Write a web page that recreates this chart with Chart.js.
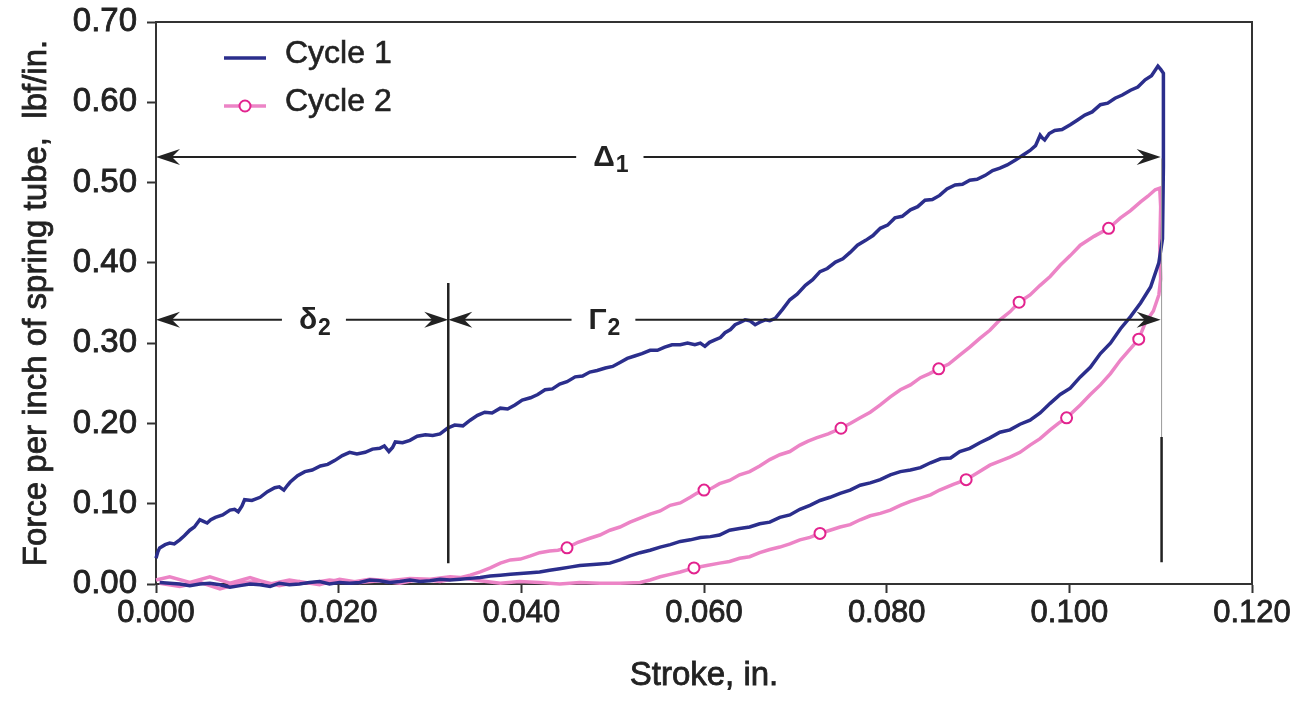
<!DOCTYPE html>
<html>
<head>
<meta charset="utf-8">
<title>Force per inch of spring tube vs stroke</title>
<script src="https://cdn.jsdelivr.net/npm/chart.js@4.4.1/dist/chart.umd.min.js"></script>
<style>
  html, body { margin: 0; padding: 0; background: #fff; }
  #wrap { width: 1296px; height: 702px; position: relative; }
</style>
</head>
<body>
<div id="wrap"><canvas id="chart"></canvas></div>
<script>
// Cycle 1 - loading, drop at end of stroke, unloading (stroke in., force lbf/in.)
const c1x = [0.0000, 0.0002, 0.0004, 0.0010, 0.0015, 0.0020, 0.0026, 0.0031, 0.0037, 0.0042,
  0.0048, 0.0052, 0.0056, 0.0060, 0.0065, 0.0073, 0.0081, 0.0086, 0.0090, 0.0094,
  0.0097, 0.0105, 0.0114, 0.0122, 0.0130, 0.0135, 0.0140, 0.0144, 0.0147, 0.0155,
  0.0163, 0.0171, 0.0180, 0.0188, 0.0196, 0.0204, 0.0212, 0.0220, 0.0229, 0.0237,
  0.0245, 0.0250, 0.0255, 0.0259, 0.0262, 0.0270, 0.0278, 0.0286, 0.0295, 0.0303,
  0.0311, 0.0319, 0.0327, 0.0336, 0.0344, 0.0352, 0.0360, 0.0368, 0.0377, 0.0385,
  0.0393, 0.0401, 0.0410, 0.0418, 0.0426, 0.0434, 0.0442, 0.0450, 0.0459, 0.0467,
  0.0475, 0.0483, 0.0492, 0.0500, 0.0508, 0.0516, 0.0524, 0.0532, 0.0541, 0.0549,
  0.0557, 0.0565, 0.0574, 0.0582, 0.0590, 0.0596, 0.0601, 0.0606, 0.0612, 0.0618,
  0.0623, 0.0629, 0.0634, 0.0640, 0.0645, 0.0650, 0.0656, 0.0661, 0.0667, 0.0672,
  0.0678, 0.0686, 0.0694, 0.0702, 0.0711, 0.0719, 0.0727, 0.0735, 0.0744, 0.0752,
  0.0760, 0.0768, 0.0777, 0.0785, 0.0793, 0.0801, 0.0809, 0.0817, 0.0826, 0.0834,
  0.0842, 0.0850, 0.0858, 0.0866, 0.0875, 0.0883, 0.0891, 0.0899, 0.0908, 0.0916,
  0.0924, 0.0932, 0.0941, 0.0949, 0.0957, 0.0963, 0.0968, 0.0970, 0.0973, 0.0978,
  0.0984, 0.0992, 0.1001, 0.1009, 0.1017, 0.1025, 0.1034, 0.1042, 0.1050, 0.1058,
  0.1067, 0.1075, 0.1083, 0.1090, 0.1097, 0.1100, 0.1103,
  0.1103, 0.1102, 0.1098, 0.1089,
  0.1078, 0.1067, 0.1056, 0.1045, 0.1034, 0.1023, 0.1012, 0.1001, 0.0990, 0.0979,
  0.0968, 0.0957, 0.0946, 0.0935, 0.0924, 0.0913, 0.0902, 0.0891, 0.0880, 0.0870,
  0.0859, 0.0848, 0.0837, 0.0826, 0.0815, 0.0804, 0.0793, 0.0782, 0.0771, 0.0760,
  0.0749, 0.0738, 0.0727, 0.0716, 0.0705, 0.0694, 0.0683, 0.0672, 0.0661, 0.0650,
  0.0639, 0.0628, 0.0617, 0.0607, 0.0596, 0.0585, 0.0574, 0.0563, 0.0552, 0.0541,
  0.0530, 0.0519, 0.0508, 0.0497, 0.0486, 0.0475, 0.0464, 0.0453, 0.0442, 0.0431,
  0.0420, 0.0410, 0.0399, 0.0388, 0.0377, 0.0366, 0.0355, 0.0344, 0.0333, 0.0322,
  0.0311, 0.0300, 0.0289, 0.0278, 0.0267, 0.0256, 0.0245, 0.0234, 0.0223, 0.0212,
  0.0201, 0.0190, 0.0179, 0.0168, 0.0157, 0.0146, 0.0135, 0.0125, 0.0114, 0.0103,
  0.0092, 0.0081, 0.0070, 0.0059, 0.0048, 0.0037, 0.0026, 0.0015, 0.0004];
const c1y = [0.032, 0.040, 0.045, 0.049, 0.051, 0.050, 0.055, 0.060, 0.067, 0.071,
  0.080, 0.078, 0.076, 0.080, 0.083, 0.086, 0.092, 0.093, 0.090, 0.097,
  0.105, 0.104, 0.108, 0.115, 0.120, 0.121, 0.117, 0.123, 0.127, 0.135,
  0.140, 0.142, 0.147, 0.149, 0.154, 0.160, 0.164, 0.162, 0.164, 0.168,
  0.169, 0.172, 0.165, 0.170, 0.177, 0.176, 0.179, 0.184, 0.186, 0.185,
  0.187, 0.194, 0.198, 0.197, 0.204, 0.210, 0.214, 0.213, 0.219, 0.218,
  0.223, 0.229, 0.232, 0.236, 0.242, 0.243, 0.249, 0.252, 0.258, 0.259,
  0.264, 0.266, 0.269, 0.271, 0.276, 0.281, 0.284, 0.287, 0.291, 0.291,
  0.295, 0.298, 0.298, 0.300, 0.298, 0.300, 0.296, 0.301, 0.304, 0.307,
  0.313, 0.317, 0.323, 0.326, 0.329, 0.328, 0.323, 0.326, 0.329, 0.328,
  0.331, 0.342, 0.354, 0.361, 0.372, 0.379, 0.389, 0.393, 0.401, 0.405,
  0.413, 0.422, 0.428, 0.434, 0.443, 0.447, 0.456, 0.458, 0.466, 0.470,
  0.478, 0.479, 0.484, 0.492, 0.497, 0.498, 0.503, 0.504, 0.509, 0.515,
  0.518, 0.522, 0.528, 0.534, 0.540, 0.546, 0.559, 0.556, 0.553, 0.561,
  0.565, 0.566, 0.572, 0.578, 0.584, 0.588, 0.597, 0.599, 0.605, 0.609,
  0.615, 0.619, 0.628, 0.633, 0.645, 0.641, 0.636,
  0.520, 0.430, 0.400, 0.370,
  0.350, 0.333, 0.318, 0.300, 0.287, 0.270, 0.258, 0.244, 0.236, 0.225,
  0.213, 0.204, 0.199, 0.192, 0.189, 0.182, 0.176, 0.169, 0.165, 0.157,
  0.156, 0.151, 0.145, 0.142, 0.140, 0.136, 0.130, 0.126, 0.123, 0.117,
  0.113, 0.108, 0.104, 0.098, 0.093, 0.086, 0.083, 0.077, 0.075, 0.071,
  0.069, 0.067, 0.061, 0.059, 0.058, 0.055, 0.053, 0.049, 0.046, 0.042,
  0.039, 0.035, 0.030, 0.026, 0.025, 0.024, 0.023, 0.021, 0.019, 0.017,
  0.015, 0.014, 0.013, 0.012, 0.011, 0.010, 0.008, 0.007, 0.006, 0.005,
  0.006, 0.004, 0.003, 0.005, 0.003, 0.002, 0.004, 0.005, 0.002, 0.001,
  0.002, 0.000, 0.003, 0.002, 0.000, -0.001, 0.001, -0.003, -0.001, 0.000,
  -0.002, -0.004, -0.001, 0.001, 0.000, -0.002, 0.000, 0.001, 0.002];

// Cycle 2
const c2x = [0.0000, 0.0015, 0.0037, 0.0059, 0.0081, 0.0103, 0.0125, 0.0146, 0.0168, 0.0190,
  0.0212, 0.0234, 0.0256, 0.0278, 0.0300, 0.0322, 0.0333, 0.0344, 0.0355, 0.0366,
  0.0377, 0.0388, 0.0399, 0.0410, 0.0420, 0.0431, 0.0440, 0.0450, 0.0462, 0.0475,
  0.0486, 0.0497, 0.0508, 0.0519, 0.0530, 0.0541, 0.0552, 0.0563, 0.0574, 0.0585,
  0.0592, 0.0600, 0.0608, 0.0617, 0.0628, 0.0639, 0.0650, 0.0661, 0.0672, 0.0683,
  0.0694, 0.0705, 0.0714, 0.0723, 0.0736, 0.0750, 0.0760, 0.0771, 0.0782, 0.0793,
  0.0804, 0.0815, 0.0826, 0.0837, 0.0847, 0.0857, 0.0868, 0.0880, 0.0891, 0.0902,
  0.0913, 0.0924, 0.0935, 0.0945, 0.0957, 0.0968, 0.0979, 0.0990, 0.1001, 0.1012,
  0.1027, 0.1043, 0.1050, 0.1056, 0.1067, 0.1078, 0.1086, 0.1094, 0.1099,
  0.1100, 0.1099, 0.1100, 0.1098, 0.1092, 0.1083,
  0.1076, 0.1066, 0.1056, 0.1045, 0.1034, 0.1023, 0.1012, 0.0997, 0.0988, 0.0979,
  0.0968, 0.0957, 0.0946, 0.0935, 0.0924, 0.0913, 0.0900, 0.0887, 0.0873, 0.0858,
  0.0848, 0.0837, 0.0826, 0.0815, 0.0804, 0.0793, 0.0782, 0.0771, 0.0760, 0.0749,
  0.0738, 0.0727, 0.0716, 0.0705, 0.0694, 0.0683, 0.0672, 0.0661, 0.0650, 0.0639,
  0.0628, 0.0617, 0.0603, 0.0589, 0.0574, 0.0563, 0.0552, 0.0541, 0.0530, 0.0508,
  0.0486, 0.0464, 0.0442, 0.0420, 0.0398, 0.0377, 0.0355, 0.0333, 0.0311, 0.0289,
  0.0267, 0.0245, 0.0223, 0.0201, 0.0179, 0.0157, 0.0135, 0.0114, 0.0092, 0.0070,
  0.0048, 0.0026, 0.0004];
const c2y = [0.005, 0.009, 0.002, 0.009, 0.001, 0.008, 0.000, 0.005, 0.001, 0.005,
  0.002, 0.006, 0.004, 0.007, 0.006, 0.009, 0.008, 0.011, 0.015, 0.020,
  0.026, 0.030, 0.031, 0.035, 0.039, 0.041, 0.042, 0.045, 0.052, 0.057,
  0.061, 0.067, 0.071, 0.077, 0.082, 0.087, 0.091, 0.098, 0.101, 0.108,
  0.113, 0.117, 0.119, 0.125, 0.129, 0.136, 0.140, 0.147, 0.155, 0.161,
  0.165, 0.173, 0.178, 0.182, 0.187, 0.194, 0.200, 0.207, 0.214, 0.223,
  0.233, 0.242, 0.248, 0.257, 0.262, 0.268, 0.274, 0.285, 0.295, 0.306,
  0.316, 0.329, 0.339, 0.351, 0.360, 0.372, 0.383, 0.397, 0.409, 0.422,
  0.433, 0.443, 0.450, 0.456, 0.465, 0.476, 0.483, 0.491, 0.493,
  0.470, 0.420, 0.380, 0.360, 0.340, 0.325,
  0.305, 0.292, 0.279, 0.262, 0.248, 0.236, 0.223, 0.207, 0.200, 0.192,
  0.181, 0.173, 0.164, 0.158, 0.153, 0.148, 0.139, 0.130, 0.124, 0.117,
  0.111, 0.107, 0.103, 0.098, 0.092, 0.088, 0.085, 0.080, 0.074, 0.071,
  0.067, 0.063, 0.058, 0.055, 0.050, 0.046, 0.043, 0.039, 0.034, 0.032,
  0.028, 0.026, 0.023, 0.020, 0.015, 0.012, 0.009, 0.005, 0.002, 0.001,
  0.001, 0.002, 0.000, 0.002, 0.003, 0.001, 0.004, 0.008, 0.003, 0.006,
  0.001, 0.004, 0.002, 0.006, -0.001, 0.003, -0.002, 0.004, 0.001, -0.006,
  0.002, -0.003, 0.001];
// stroke values where Cycle 2 carries an open circle
const c2MarkX = [0.0450, 0.0600, 0.0750, 0.0857, 0.0945, 0.1043, 0.1076, 0.0997, 0.0887, 0.0727, 0.0589];

const seriesNames = ['Cycle 1', 'Cycle 2'];
const xTicks = [0, 0.02, 0.04, 0.06, 0.08, 0.10, 0.12];
const yTicks = [0, 0.1, 0.2, 0.3, 0.4, 0.5, 0.6, 0.7];
const xTitle = 'Stroke, in.';
const yTitle = 'Force per inch of spring tube,  lbf/in.';

// Dimension arrows: symbol, subscript, force level, stroke from/to, label centre
const dimSym = ['\u0394', '\u03B4', '\u0393'];
const dimSub = ['1', '2', '2'];
const dimY = [0.532, 0.329, 0.329];
const dimFrom = [0, 0, 0.032];
const dimTo = [0.110, 0.032, 0.110];
const dimLabelX = [0.0498, 0.0174, 0.0491];

const blue = '#2b2e8c';
const pink = '#ec84c6';
const markerPink = '#e2238e';
const ink = '#222';
const axisColor = '#333';
const fontFamily = '"Liberation Sans", Arial, Helvetica, sans-serif';

Chart.defaults.font.family = fontFamily;
Chart.defaults.color = ink;

function toPoints(xs, ys) {
    return xs.map((x, i) => ({ x: x, y: ys[i] }));
}

function arrowHead(ctx, x, y, dir) {
    ctx.beginPath();
    ctx.moveTo(x, y);
    ctx.lineTo(x - dir * 24, y - 8);
    ctx.lineTo(x - dir * 16, y);
    ctx.lineTo(x - dir * 24, y + 8);
    ctx.closePath();
    ctx.fill();
}

// text with a thin outline so it reads as heavy as the printed figure
function heavyText(ctx, text, x, y, w) {
    ctx.lineWidth = w;
    ctx.strokeStyle = ctx.fillStyle;
    ctx.fillText(text, x, y);
    ctx.strokeText(text, x, y);
}

// Frame, axis titles, dimension arrows and the in-plot legend
const overlay = {
    id: 'overlay',
    afterDatasetsDraw(chart) {
        const ctx = chart.ctx;
        const xs = chart.scales.x;
        const ys = chart.scales.y;
        const area = chart.chartArea;
        ctx.save();

        ctx.strokeStyle = axisColor;
        ctx.lineWidth = 2;
        ctx.beginPath();
        ctx.moveTo(area.left, area.top);
        ctx.lineTo(area.right, area.top);
        ctx.lineTo(area.right, area.bottom);
        ctx.stroke();

        // axis titles
        ctx.fillStyle = ink;
        ctx.textAlign = 'center';
        ctx.textBaseline = 'middle';
        ctx.font = '33px ' + fontFamily;
        heavyText(ctx, xTitle, (area.left + area.right) / 2, 676, 0.8);
        ctx.save();
        ctx.translate(37, (area.top + area.bottom) / 2);
        ctx.rotate(-Math.PI / 2);
        heavyText(ctx, yTitle, 0, 0, 0.8);
        ctx.restore();

        // vertical reference lines
        ctx.strokeStyle = '#999';
        ctx.lineWidth = 1;
        ctx.beginPath();
        ctx.moveTo(xs.getPixelForValue(0.1101), ys.getPixelForValue(0.53));
        ctx.lineTo(xs.getPixelForValue(0.1101), ys.getPixelForValue(0.183));
        ctx.stroke();
        ctx.strokeStyle = ink;
        ctx.lineWidth = 2.5;
        ctx.beginPath();
        ctx.moveTo(xs.getPixelForValue(0.1101), ys.getPixelForValue(0.183));
        ctx.lineTo(xs.getPixelForValue(0.1101), ys.getPixelForValue(0.027));
        ctx.moveTo(xs.getPixelForValue(0.032), ys.getPixelForValue(0.375));
        ctx.lineTo(xs.getPixelForValue(0.032), ys.getPixelForValue(0.026));
        ctx.stroke();

        ctx.fillStyle = ink;
        for (let i = 0; i < dimSym.length; i++) {
            const y = ys.getPixelForValue(dimY[i]);
            const x0 = xs.getPixelForValue(dimFrom[i]);
            const x1 = xs.getPixelForValue(dimTo[i]);
            const lx = xs.getPixelForValue(dimLabelX[i]);
            ctx.font = 'bold 30px ' + fontFamily;
            const w1 = ctx.measureText(dimSym[i]).width;
            ctx.font = 'bold 23px ' + fontFamily;
            const w2 = ctx.measureText(dimSub[i]).width;
            const tw = w1 + 1 + w2;
            const tx = lx - tw / 2;
            ctx.strokeStyle = ink;
            ctx.lineWidth = 2;
            ctx.beginPath();
            ctx.moveTo(x0 + 10, y);
            ctx.lineTo(tx - 17, y);
            ctx.moveTo(tx + tw + 15, y);
            ctx.lineTo(x1 - 10, y);
            ctx.stroke();
            arrowHead(ctx, x0, y, -1);
            arrowHead(ctx, x1, y, 1);
            ctx.textAlign = 'left';
            ctx.textBaseline = 'alphabetic';
            ctx.font = 'bold 30px ' + fontFamily;
            ctx.fillText(dimSym[i], tx, y + 9);
            ctx.font = 'bold 23px ' + fontFamily;
            ctx.fillText(dimSub[i], tx + w1 + 1, y + 15);
        }

        // legend
        const lgX = 224, lgY = [58, 106];
        chart.data.datasets.forEach((ds, i) => {
            ctx.strokeStyle = ds.borderColor;
            ctx.lineWidth = ds.borderWidth;
            ctx.beginPath();
            ctx.moveTo(lgX, lgY[i]);
            ctx.lineTo(lgX + 42, lgY[i]);
            ctx.stroke();
            if (i === 1) {
                ctx.beginPath();
                ctx.arc(lgX + 21, lgY[i], 5.5, 0, Math.PI * 2);
                ctx.fillStyle = '#fff';
                ctx.fill();
                ctx.strokeStyle = markerPink;
                ctx.lineWidth = 2;
                ctx.stroke();
            }
            ctx.fillStyle = ink;
            ctx.font = '32px ' + fontFamily;
            ctx.textAlign = 'left';
            ctx.textBaseline = 'middle';
            heavyText(ctx, ds.label, lgX + 61, lgY[i] - 4, 0.6);
        });
        ctx.restore();
    }
};

const ctx = document.getElementById('chart').getContext('2d');
new Chart(ctx, {
    type: 'scatter',
    data: {
        datasets: [{
            label: seriesNames[0],
            data: toPoints(c1x, c1y),
            showLine: true,
            borderColor: blue,
            borderWidth: 3.5,
            pointRadius: 0,
            tension: 0,
            clip: 8
        }, {
            label: seriesNames[1],
            data: toPoints(c2x, c2y),
            showLine: true,
            borderColor: pink,
            borderWidth: 3.5,
            pointRadius: c => c2MarkX.includes(c2x[c.dataIndex]) ? 5.5 : 0,
            pointBorderColor: markerPink,
            pointBackgroundColor: '#fff',
            pointBorderWidth: 2,
            tension: 0,
            clip: 8
        }]
    },
    options: {
        responsive: true,
        maintainAspectRatio: false,
        animation: false,
        events: [],
        layout: { padding: { top: 22, right: 44, left: 0, bottom: 0 } },
        plugins: {
            legend: { display: false },
            tooltip: { enabled: false }
        },
        scales: {
            x: {
                type: 'linear',
                min: 0,
                max: 0.12,
                afterFit: s => { s.height = 118; s.paddingLeft = 0; s.paddingRight = 0; },
                afterBuildTicks: s => { s.ticks = xTicks.map(v => ({ value: v })); },
                ticks: {
                    font: { size: 31 },
                    color: ink,
                    padding: 2,
                    maxRotation: 0,
                    textStrokeColor: ink,
                    textStrokeWidth: 0.8,
                    callback: v => v.toFixed(3)
                },
                grid: { drawOnChartArea: false, drawTicks: true, tickLength: 9, tickColor: axisColor, tickWidth: 2 },
                border: { display: true, color: axisColor, width: 2 },
                title: { display: false }
            },
            y: {
                type: 'linear',
                min: 0,
                max: 0.7,
                afterFit: s => { s.width = 156; s.paddingTop = 0; s.paddingBottom = 0; },
                afterBuildTicks: s => { s.ticks = yTicks.map(v => ({ value: v })); },
                ticks: {
                    font: { size: 33 },
                    color: ink,
                    padding: 10,
                    textStrokeColor: ink,
                    textStrokeWidth: 0.8,
                    callback: v => v.toFixed(2)
                },
                grid: { drawOnChartArea: false, drawTicks: true, tickLength: 9, tickColor: axisColor, tickWidth: 2 },
                border: { display: true, color: axisColor, width: 2 },
                title: { display: false }
            }
        }
    },
    plugins: [overlay]
});
</script>
</body>
</html>
